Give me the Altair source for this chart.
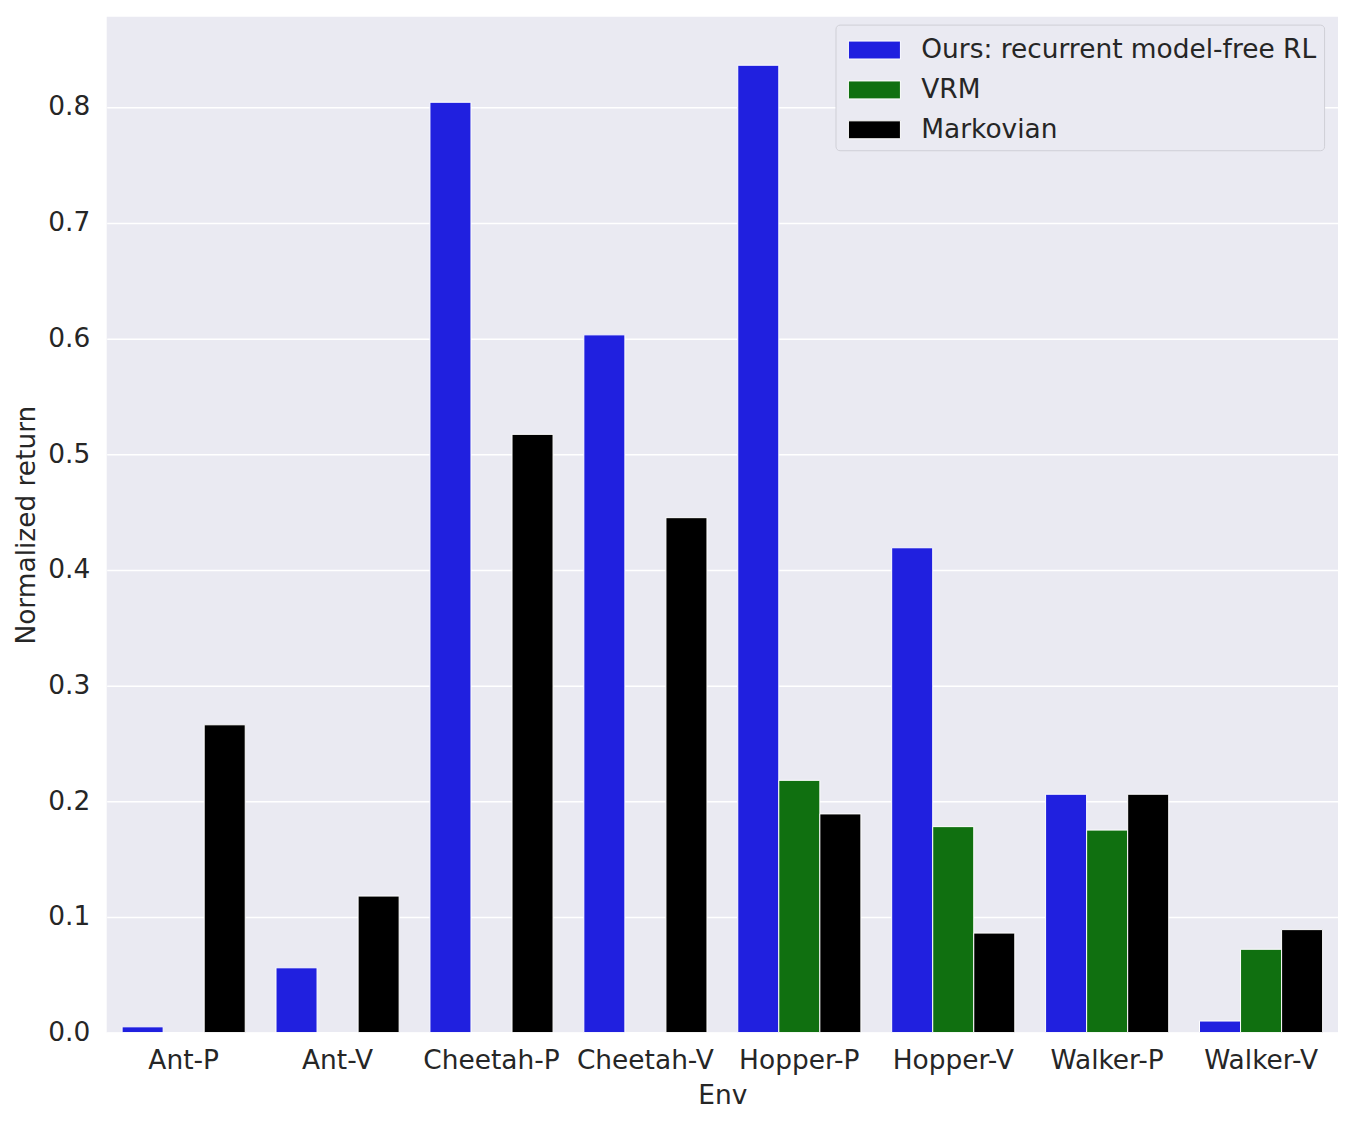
import altair as alt
import pandas as pd

envs = ["Ant-P", "Ant-V", "Cheetah-P", "Cheetah-V", "Hopper-P", "Hopper-V", "Walker-P", "Walker-V"]
methods = ["Ours: recurrent model-free RL", "VRM", "Markovian"]
ours = [0.005, 0.056, 0.804, 0.603, 0.836, 0.419, 0.206, 0.010]
vrm = [0.0, 0.0, 0.0, 0.0, 0.218, 0.178, 0.175, 0.072]
markov = [0.266, 0.118, 0.517, 0.445, 0.189, 0.086, 0.206, 0.089]
colors = ["#2020DF", "#107010", "#000000"]

rows = []
for i, e in enumerate(envs):
    for m, vals in zip(methods, [ours, vrm, markov]):
        rows.append({"Env": e, "Method": m, "Value": vals[i]})
df = pd.DataFrame(rows)

font = "DejaVu Sans"
txt = "#262626"
fs = 26.5

chart = alt.Chart(df).mark_bar(stroke="white", strokeWidth=1).encode(
    x=alt.X("Env:N", sort=envs, title="Env",
            scale=alt.Scale(paddingInner=0.2, paddingOuter=0.1),
            axis=alt.Axis(labelAngle=0, ticks=False, domain=False, grid=False,
                          labelPadding=15, titlePadding=9)),
    xOffset=alt.XOffset("Method:N", sort=methods, scale=alt.Scale(paddingInner=0, paddingOuter=0)),
    y=alt.Y("Value:Q", title="Normalized return",
            scale=alt.Scale(domain=[0, 0.878], nice=False, zero=True),
            axis=alt.Axis(values=[0, 0.1, 0.2, 0.3, 0.4, 0.5, 0.6, 0.7, 0.8], format=".1f",
                          ticks=False, domain=False, gridColor="white", gridWidth=1.5,
                          labelPadding=17, titlePadding=7)),
    color=alt.Color("Method:N", sort=methods,
                    scale=alt.Scale(domain=methods, range=colors),
                    legend=alt.Legend(title=None, orient="none", legendX=731, legendY=8,
                                      symbolType="M-0.7,-0.5H2.2V0.5H-0.7Z",
                                      symbolSize=1296, symbolStrokeColor="white",
                                      symbolStrokeWidth=1, symbolOpacity=1,
                                      labelOffset=42, rowPadding=8, padding=7,
                                      fillColor="#EAEAF2", strokeColor="#CFCFD6",
                                      cornerRadius=4, labelFontSize=fs, labelFont=font,
                                      labelColor=txt, labelLimit=600)),
).properties(
    width=1235, height=1019,
    background="white",
    autosize=alt.AutoSizeParams(type="none"),
    padding={"left": 99, "top": 7, "right": 10, "bottom": 90},
).configure_view(
    fill="#EAEAF2", stroke=None
).configure_axis(
    labelFont=font, titleFont=font, labelFontSize=fs, titleFontSize=fs,
    labelColor=txt, titleColor=txt, titleFontWeight="normal"
)

chart.save("out.html", embed_options={"renderer": "svg", "actions": False})
